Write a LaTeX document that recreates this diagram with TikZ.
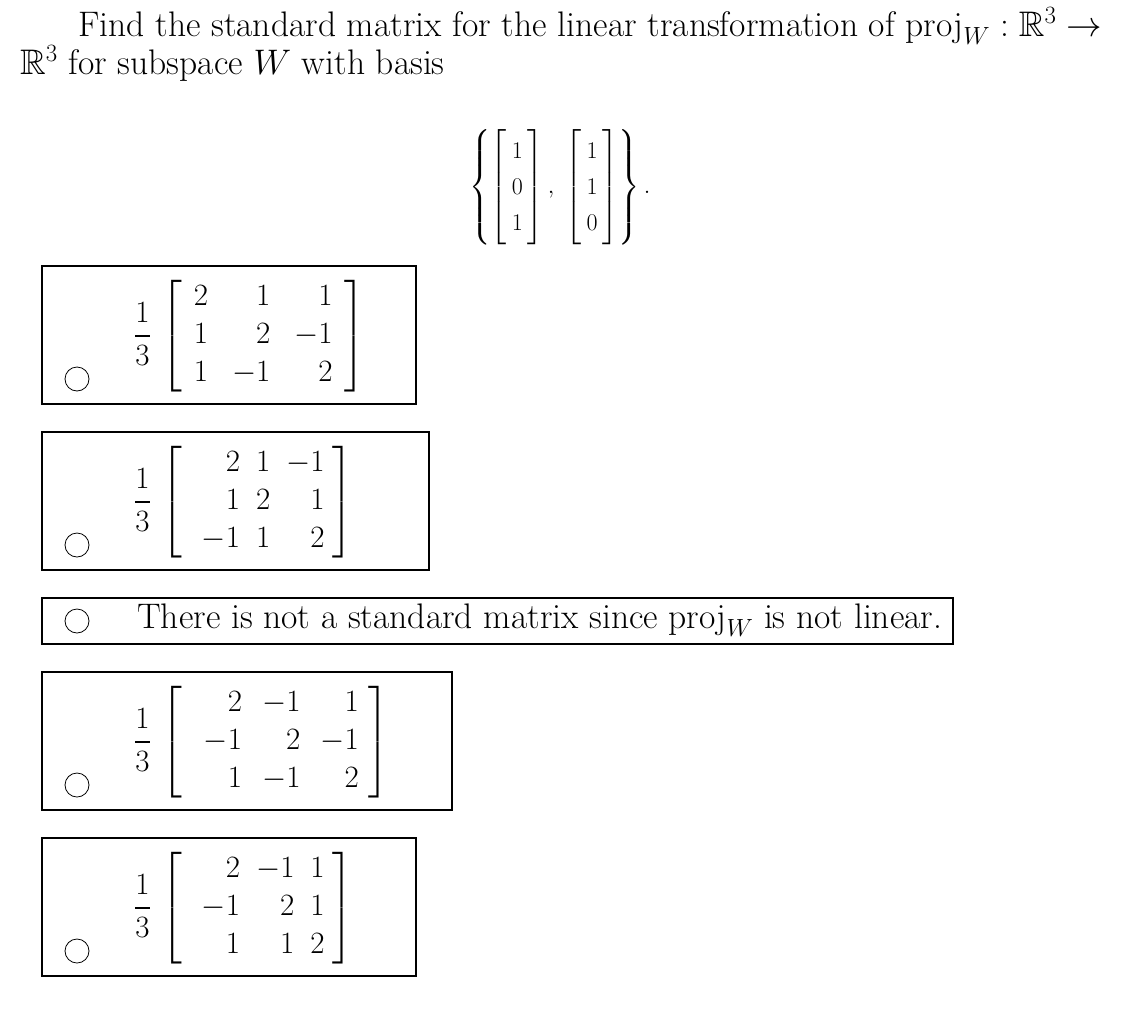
\RequirePackage{fix-cm}
\documentclass[tikz,border=0pt]{standalone}
\usepackage{amsmath,amssymb}
\begin{document}
\begin{tikzpicture}[x=1pt,y=-1pt,
  box/.style={draw,line width=1.2pt},
  radio/.style={draw,circle,minimum size=24pt,inner sep=0pt,line width=0.8pt},
  txt/.style={anchor=base west,inner sep=0pt,font=\fontsize{35.5}{40}\selectfont},
  mat/.style={anchor=west,inner sep=0pt,font=\fontsize{31}{38}\selectfont}]
\useasboundingbox (0,0) rectangle (1126,1012);
\node[txt] (l1) at (78,36) {Find the standard matrix for the linear transformation of $\text{proj}_W:\mathbb{R}^3\to$};
\node[txt] (l2) at (20,74) {$\mathbb{R}^3$ for subspace $W$ with basis};
\node[inner sep=0pt,font=\fontsize{24}{36}\selectfont] (set) at (560,187)
 {$\left\{\left[\begin{array}{c}1\\0\\1\end{array}\right],\ \left[\begin{array}{c}1\\1\\0\end{array}\right]\right\}.$};
% box 1
\draw[box] (42,266) rectangle (416,404);
\node[radio] (r1) at (77,379) {};
\node[mat] (m1) at (134,336) {$\dfrac13\,\left[\setlength\arraycolsep{12pt}\begin{array}{rrr}2&1&1\\1&2&-1\\1&-1&2\end{array}\right]$};
% box 2
\draw[box] (42,432) rectangle (429,570);
\node[radio] (r2) at (77,545) {};
\node[mat] (m2) at (134,502) {$\dfrac13\,\left[\hspace{12pt}\setlength\arraycolsep{8pt}\begin{array}{rrr}2&1&-1\\1&2&1\\-1&1&2\end{array}\right]$};
% box 3
\draw[box] (42,598) rectangle (953,644);
\node[radio] (r3) at (77,621) {};
\node[txt] (t3) at (137,628) {There is not a standard matrix since $\text{proj}_W$ is not linear.};
% box 4
\draw[box] (42,672) rectangle (452,810);
\node[radio] (r4) at (77,785) {};
\node[mat] (m4) at (134,742) {$\dfrac13\,\left[\hspace{12pt}\setlength\arraycolsep{10pt}\begin{array}{rrr}2&-1&1\\-1&2&-1\\1&-1&2\end{array}\right]$};
% box 5
\draw[box] (42,838) rectangle (416,976);
\node[radio] (r5) at (77,951) {};
\node[mat] (m5) at (134,908) {$\dfrac13\,\left[\hspace{12pt}\setlength\arraycolsep{8pt}\begin{array}{rrr}2&-1&1\\-1&2&1\\1&1&2\end{array}\right]$};
\end{tikzpicture}
\end{document}
